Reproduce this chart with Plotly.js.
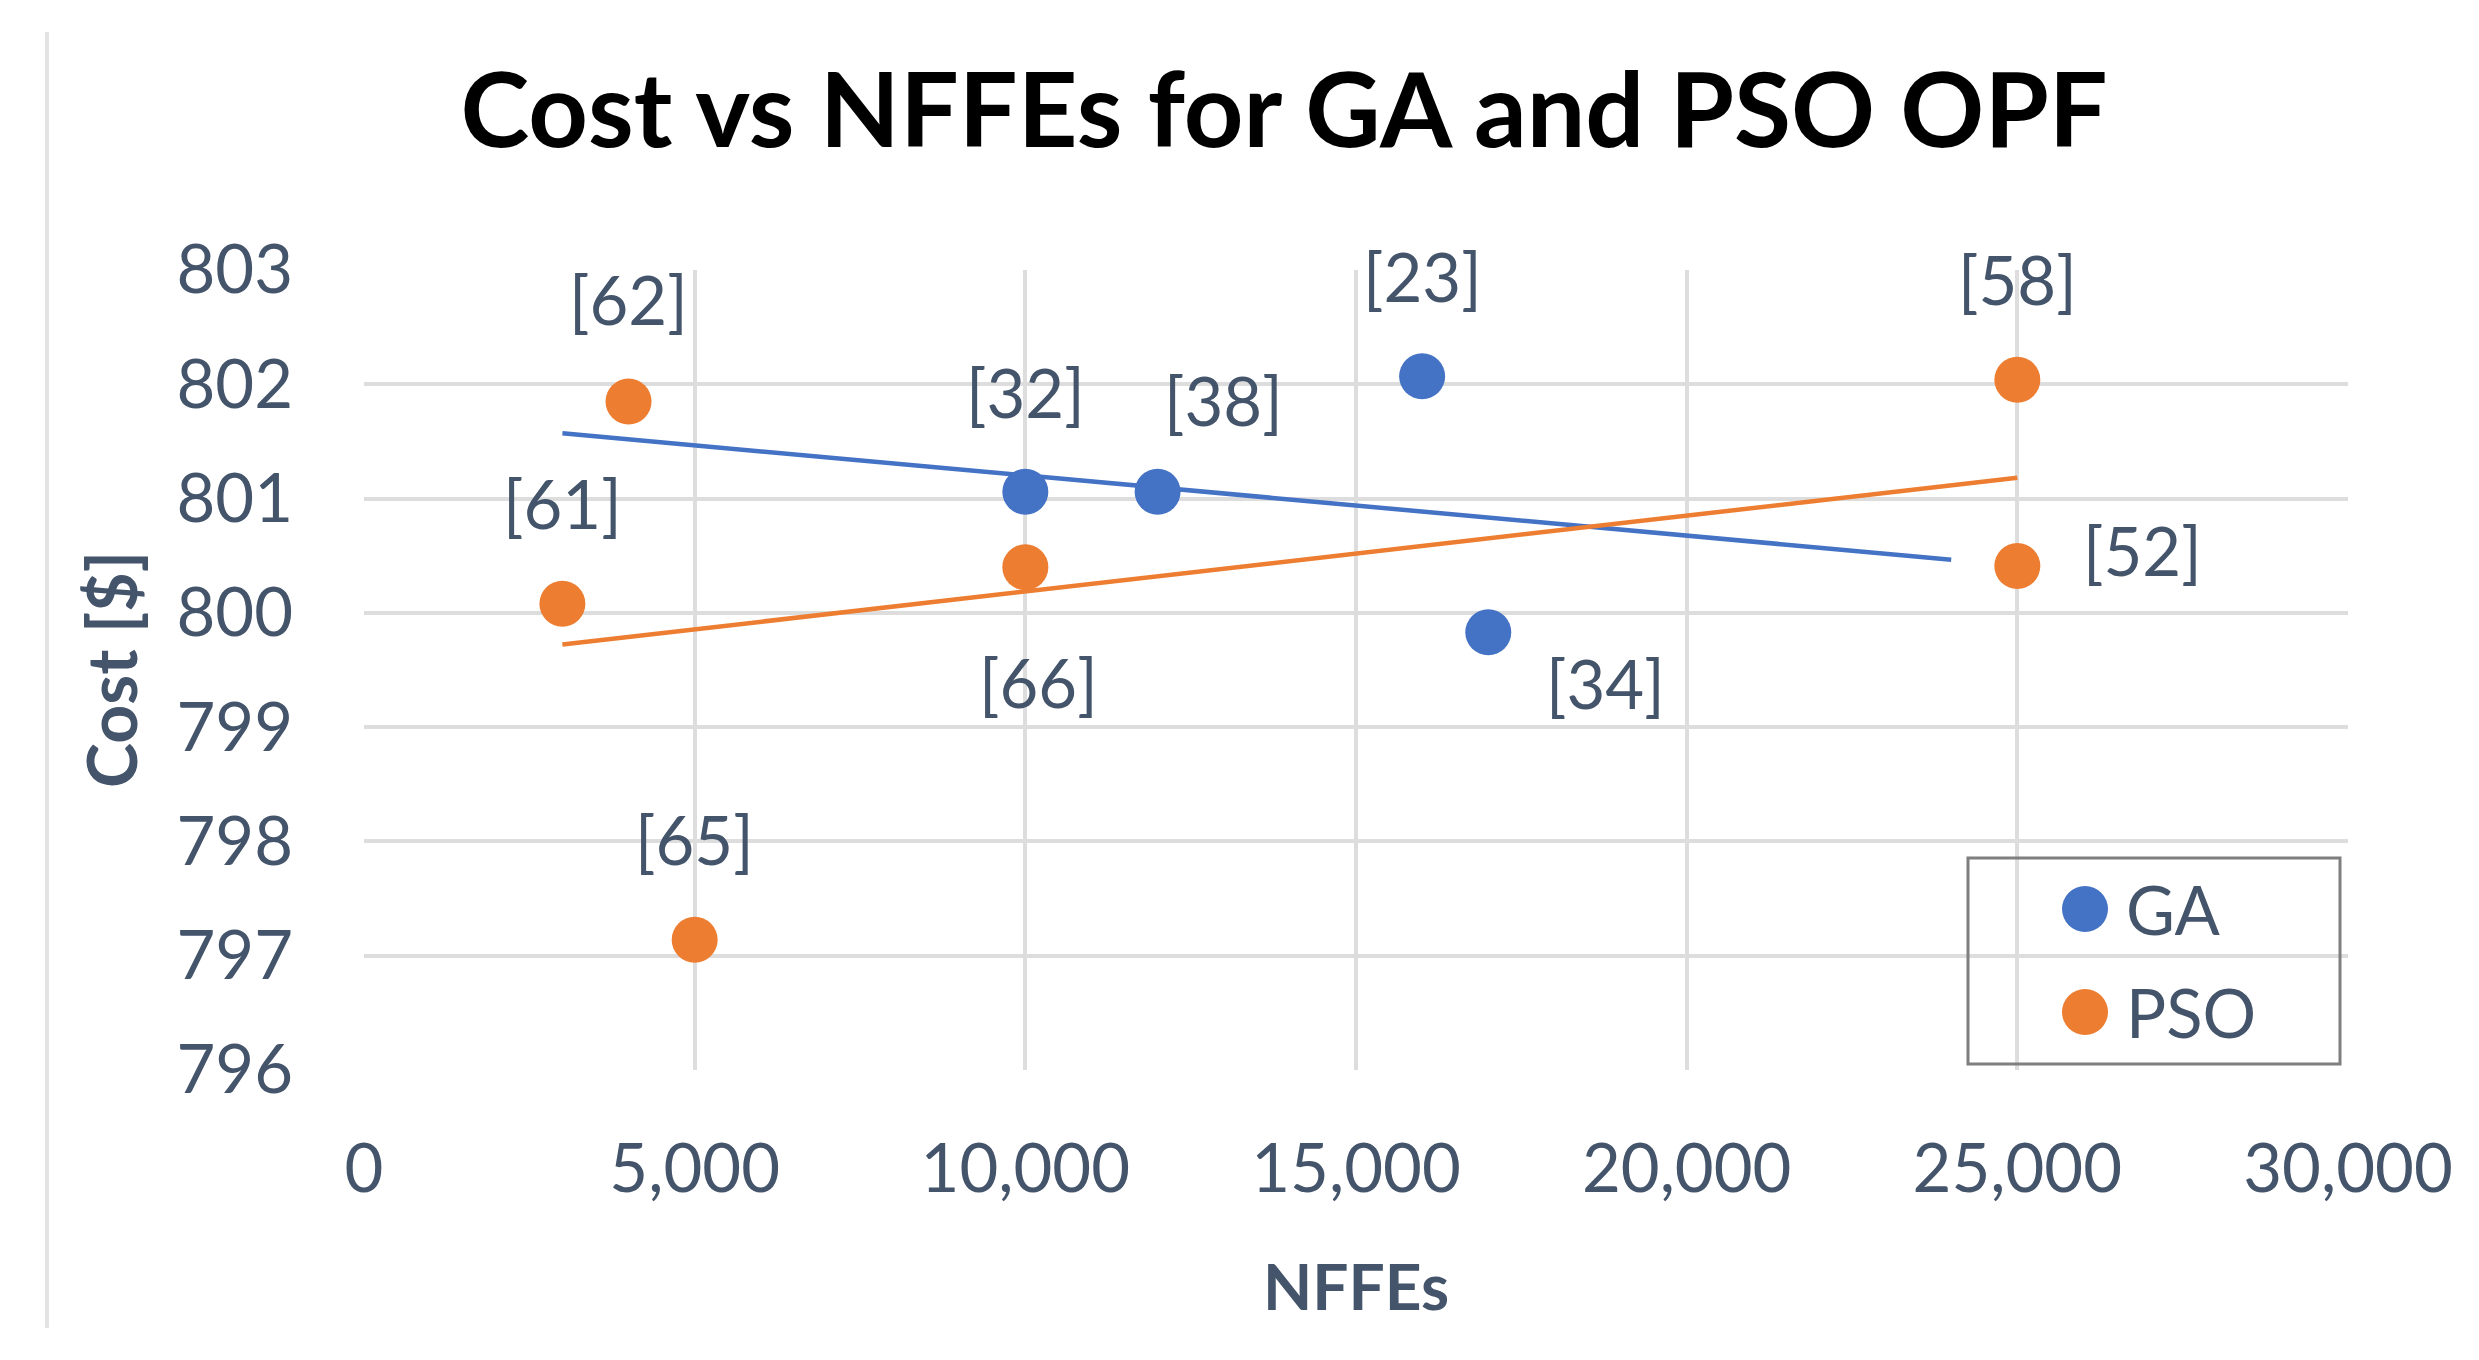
<!DOCTYPE html>
<html>
<head>
<meta charset="utf-8">
<script src="https://cdn.plot.ly/plotly-3.0.1.min.js"></script>
<style>html,body{margin:0;padding:0;background:#fff;}#chart{width:2479px;height:1360px;}</style>
</head>
<body>
<div id="chart"></div>
<script>
// ---- data ----
const gaX = [10000, 12000, 16000, 17000];
const gaY = [801.06, 801.06, 802.07, 799.83];
const gaLabels = ["[32]", "[38]", "[23]", "[34]"];

const psoX = [3000, 4000, 5000, 10000, 25000, 25000];
const psoY = [800.08, 801.85, 797.14, 800.40, 802.04, 800.41];
const psoLabels = ["[61]", "[62]", "[65]", "[66]", "[58]", "[52]"];

const gaTrendRange = [3000, 24000];
const psoTrendRange = [3000, 25000];

const xTicks = [0, 5000, 10000, 15000, 20000, 25000, 30000];
const yTicks = [796, 797, 798, 799, 800, 801, 802, 803];

// label offsets (pixels) for data labels
const gaLabelShift = [[0, -100], [66, -92], [0, -100], [117, 51]];
const psoLabelShift = [[0, -101], [0, -102], [0, -101], [13, 115], [0, -101], [125, -16]];

// ---- linear least-squares trendline ----
function linfit(xs, ys) {
  const n = xs.length;
  const mx = xs.reduce((a, b) => a + b, 0) / n;
  const my = ys.reduce((a, b) => a + b, 0) / n;
  let sxy = 0, sxx = 0;
  for (let i = 0; i < n; i++) { sxy += (xs[i] - mx) * (ys[i] - my); sxx += (xs[i] - mx) ** 2; }
  const m = sxy / sxx;
  return x => my + m * (x - mx);
}
const gaFit = linfit(gaX, gaY);
const psoFit = linfit(psoX, psoY);

const BLUE = "#4472C4", ORANGE = "#ED7D31", TXT = "#44546A";
const FONT = "Lato, 'Open Sans', sans-serif";

const traces = [
  { x: gaTrendRange, y: gaTrendRange.map(gaFit), mode: "lines", line: { color: BLUE, width: 4.5 }, showlegend: false, hoverinfo: "skip" },
  { x: psoTrendRange, y: psoTrendRange.map(psoFit), mode: "lines", line: { color: ORANGE, width: 4.5 }, showlegend: false, hoverinfo: "skip" },
  { x: gaX, y: gaY, name: "GA", mode: "markers", marker: { color: BLUE, size: 46 }, showlegend: false },
  { x: psoX, y: psoY, name: "PSO", mode: "markers", marker: { color: ORANGE, size: 46 }, showlegend: false }
];

const annotations = [];
gaX.forEach((x, i) => annotations.push({ x: x, y: gaY[i], xref: "x", yref: "y", text: gaLabels[i], showarrow: false,
  xshift: gaLabelShift[i][0], yshift: -gaLabelShift[i][1], font: { size: 67, color: TXT, family: FONT } }));
psoX.forEach((x, i) => annotations.push({ x: x, y: psoY[i], xref: "x", yref: "y", text: psoLabels[i], showarrow: false,
  xshift: psoLabelShift[i][0], yshift: -psoLabelShift[i][1], font: { size: 67, color: TXT, family: FONT } }));

// geometry of plot area (pixels)
const L = 364, R = 2348, T = 270, B = 1070;
const px = p => (p - L) / (R - L);
const py = p => (B - p) / (B - T);

// axis titles
annotations.push({ xref: "paper", yref: "paper", x: px(110), y: 0.5, text: "<b>Cost [$]</b>", textangle: -90, showarrow: false,
  xanchor: "center", yanchor: "middle", font: { size: 68, color: TXT, family: FONT } });
annotations.push({ xref: "paper", yref: "paper", x: 0.5, y: py(1285), text: "<b>NFFEs</b>", showarrow: false,
  xanchor: "center", yanchor: "middle", font: { size: 64, color: TXT, family: FONT } });

// custom legend
annotations.push({ xref: "paper", yref: "paper", x: px(2124), y: py(909), text: "GA", showarrow: false, xanchor: "left", yanchor: "middle", font: { size: 67, color: TXT, family: FONT } });
annotations.push({ xref: "paper", yref: "paper", x: px(2124), y: py(1012), text: "PSO", showarrow: false, xanchor: "left", yanchor: "middle", font: { size: 67, color: TXT, family: FONT } });

const shapes = [
  { type: "line", xref: "paper", yref: "paper", x0: px(47), x1: px(47), y0: py(32), y1: py(1328), line: { color: "#E3E3E3", width: 4 } },
  { type: "rect", xref: "paper", yref: "paper", x0: px(1968), x1: px(2340), y0: py(858), y1: py(1064), line: { color: "#7F7F7F", width: 3 }, fillcolor: "rgba(0,0,0,0)" },
  { type: "circle", xref: "paper", yref: "paper", xsizemode: "pixel", ysizemode: "pixel", xanchor: px(2085), yanchor: py(909), x0: -23, x1: 23, y0: -23, y1: 23, fillcolor: BLUE, line: { width: 0 } },
  { type: "circle", xref: "paper", yref: "paper", xsizemode: "pixel", ysizemode: "pixel", xanchor: px(2085), yanchor: py(1012), x0: -23, x1: 23, y0: -23, y1: 23, fillcolor: ORANGE, line: { width: 0 } }
];

const layout = {
  width: 2479, height: 1360,
  margin: { l: L, r: 2479 - R, t: T, b: 1360 - B, pad: 0 },
  paper_bgcolor: "#fff", plot_bgcolor: "#fff",
  font: { family: FONT, color: TXT, size: 66 },
  title: { text: "<b>Cost vs NFFEs for GA and PSO OPF</b>", xref: "container", yref: "container", x: 0.518, y: 1 - 111 / 1360,
    xanchor: "center", yanchor: "middle", font: { size: 104, color: "#000", family: FONT } },
  xaxis: { range: [0, 30000], tickvals: xTicks, tickformat: ",d", showgrid: true, gridcolor: "#DDDDDD", gridwidth: 4,
    zeroline: false, showline: false, ticks: "", ticklabelstandoff: 54, tickfont: { size: 67, color: TXT, family: FONT } },
  yaxis: { range: [796, 803], tickvals: yTicks, showgrid: true, gridcolor: "#DDDDDD", gridwidth: 4,
    zeroline: false, showline: false, ticks: "", ticklabelstandoff: 70, tickfont: { size: 67, color: TXT, family: FONT } },
  showlegend: false,
  annotations: annotations,
  shapes: shapes
};

Plotly.newPlot("chart", traces, layout, { staticPlot: true });
</script>
</body>
</html>
